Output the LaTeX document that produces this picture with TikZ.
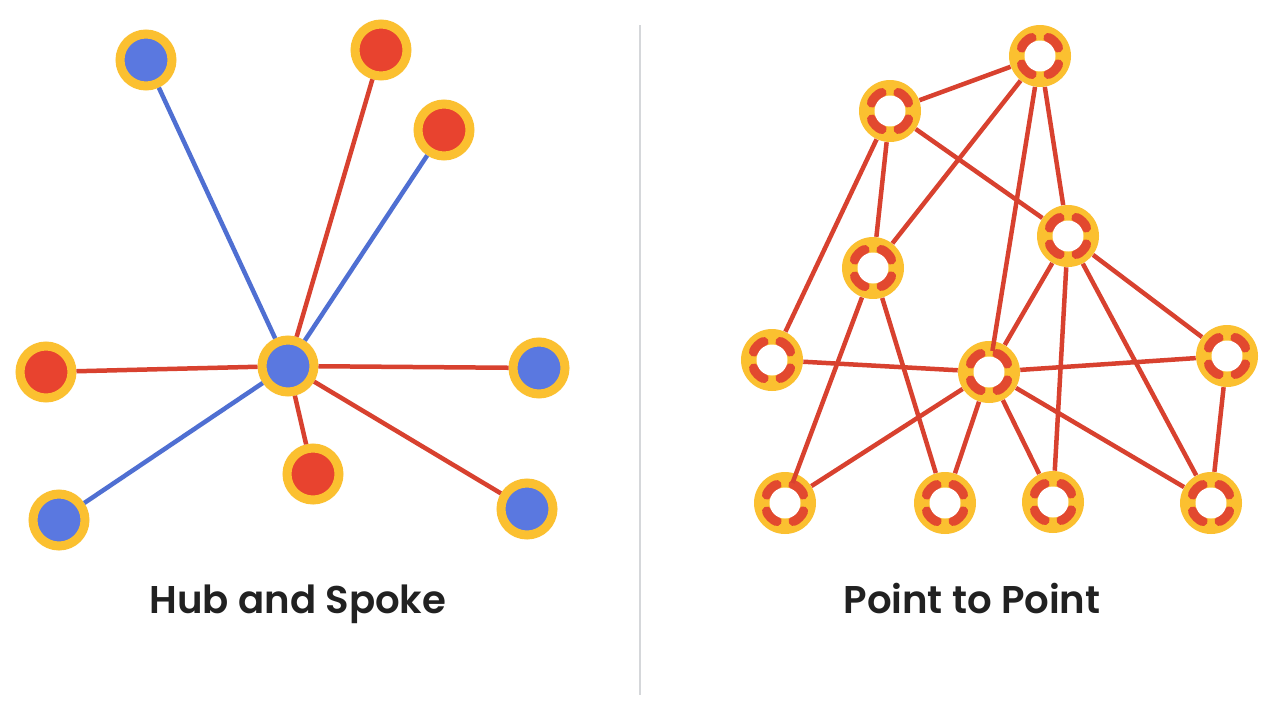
\documentclass[tikz,border=0pt]{standalone}
\usepackage{fontspec}
\setmainfont{Poppins}[BoldFont={Poppins SemiBold}]
\usetikzlibrary{calc}

\definecolor{ringyellow}{HTML}{FBC030}
\definecolor{dotblue}{HTML}{5A78E0}
\definecolor{dotred}{HTML}{E8432F}
\definecolor{wireblue}{HTML}{4F6FD2}
\definecolor{wirered}{HTML}{D8412F}
\definecolor{petalred}{HTML}{E2492F}
\definecolor{rulegrey}{HTML}{D5D7DA}
\definecolor{titleblack}{HTML}{212121}

\begin{document}
\begin{tikzpicture}[x=0.02cm, y=-0.02cm]
                \tikzstyle{leaf} = [circle, inner sep=0pt, minimum size=1.04cm, line width=0.18cm, draw=ringyellow, fill={#1}]
                \tikzstyle{peer} = [circle, inner sep=0pt, minimum size=1.24cm, fill=ringyellow,
                    path picture={
                        \draw[petalred, line width=0.2cm, line cap=round, dash pattern=on 0.28cm off 0.348cm, dash phase=0.454cm]
                            (path picture bounding box.center) circle[radius=0.4cm];
                        \fill[white] (path picture bounding box.center) circle[radius=0.31cm];
                    }]
                \tikzstyle{wire} = [line width=0.09cm, color={#1}]
                \tikzstyle{title} = [font=\fontsize{22}{28}\selectfont\bfseries, text=titleblack, anchor=base]
                \useasboundingbox (0, 0) rectangle (1280, 720);
                \fill[white] (0, 0) rectangle (1280, 720);
                % left side
                \node[leaf=dotblue] (hub) at (288, 366) {};
                \node[leaf=dotblue] (topblue) at (146, 60) {};
                \node[leaf=dotred] (topred) at (381, 50) {};
                \node[leaf=dotred] (nearred) at (444, 130) {};
                \node[leaf=dotred] (westred) at (46, 372) {};
                \node[leaf=dotblue] (eastblue) at (539, 368) {};
                \node[leaf=dotred] (southred) at (313, 474) {};
                \node[leaf=dotblue] (swblue) at (59, 520) {};
                \node[leaf=dotblue] (seblue) at (527, 509) {};
                \draw[wire=wireblue] (hub) -- (topblue);
                \draw[wire=wirered] (hub) -- (topred);
                \draw[wire=wireblue] (hub) -- (nearred);
                \draw[wire=wirered] (hub) -- (westred);
                \draw[wire=wirered] (hub) -- (eastblue);
                \draw[wire=wirered] (hub) -- (southred);
                \draw[wire=wireblue] (hub) -- (swblue);
                \draw[wire=wirered] (hub) -- (seblue);
                % right side
                \node[peer] (top) at (1040, 56) {};
                \node[peer] (upleft) at (890, 111) {};
                \node[peer] (upright) at (1068, 236) {};
                \node[peer] (midleft) at (873, 268) {};
                \node[peer] (west) at (772, 360) {};
                \node[peer] (core) at (989, 372) {};
                \node[peer] (east) at (1227, 356) {};
                \node[peer] (low1) at (785, 503) {};
                \node[peer] (low2) at (945, 503) {};
                \node[peer] (low3) at (1053, 502) {};
                \node[peer] (low4) at (1211, 503) {};
                \foreach \from/\to in {upleft/top, upleft/upright, upleft/midleft, upleft/west,
                    top/midleft, top/upright, upright/core, upright/east, upright/low3,
                    upright/low4, midleft/low2, west/core, core/east, core/low1,
                    core/low2, core/low3, core/low4, east/low4}
                    \draw[wire=wirered] (\from) -- (\to);
                % these two run on into the ring
                \draw[wire=wirered, shorten >=-0.2cm] (top) -- (core);
                \draw[wire=wirered, shorten >=-0.2cm] (midleft) -- (low1);
                % divider and titles
                \coordinate (ruletop) at (640, 25);
                \coordinate (rulebottom) at (640, 695);
                \draw[rulegrey, line width=0.03cm] (ruletop) -- (rulebottom);
                \node[title] (hubtitle) at (298, 613) {Hub and Spoke};
                \node[title] (peertitle) at (972, 613) {Point to Point};
            \end{tikzpicture}
\end{document}
